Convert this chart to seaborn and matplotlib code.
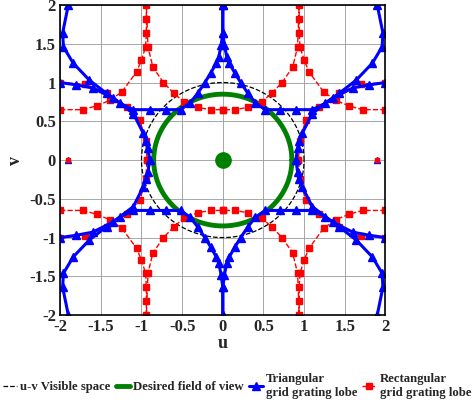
import numpy as np
import matplotlib
matplotlib.use("Agg")
import matplotlib.pyplot as plt
import seaborn as sns

sns.set_style("whitegrid")
plt.rcParams['font.family'] = ['Liberation Serif', 'DejaVu Serif']
plt.rcParams['font.weight'] = 'bold'

# upper-left part of each curve (u, v)
blue_top_u = [-1.90, -1.97, -1.96, -1.84, -1.64, -1.43, -1.26, -1.10, -0.90, -0.70, -0.52,
              -0.40, -0.31, -0.22, -0.15, -0.08, -0.05, -0.02, 0.00, 0.00]
blue_top_v = [2.00, 1.64, 1.46, 1.25, 1.03, 0.86, 0.73, 0.65, 0.65, 0.65, 0.65,
              0.74, 0.86, 1.00, 1.12, 1.25, 1.33, 1.48, 1.64, 2.00]
blue_side_u = [-2.00, -1.80, -1.60, -1.35, -1.10, -0.98, -0.94, -0.92, -0.90]
blue_side_v = [1.00, 0.97, 0.93, 0.80, 0.60, 0.35, 0.25, 0.15, 0.00]

red_top_u = [-2.00, -1.72, -1.55, -1.39, -1.24, -1.06, -1.00, -0.95, -0.94, -0.94, -0.94,
             -0.92, -0.86, -0.73, -0.60, -0.48, -0.31, -0.15, 0.00]
red_top_v = [0.65, 0.65, 0.70, 0.77, 0.88, 1.14, 1.29, 1.46, 1.64, 1.82, 2.00,
             1.46, 1.20, 1.00, 0.86, 0.75, 0.68, 0.65, 0.65]
red_side_u = [-2.00, -1.70, -1.43, -1.18, -1.02, -0.95, -0.93]
red_side_v = [1.00, 0.98, 0.87, 0.69, 0.52, 0.25, 0.00]

lobe_u = [-1.90, 1.90]
lobe_v = [0.00, 0.00]

visible_r = 1.0
fov_r = 0.85

fig = plt.figure(figsize=(4.74, 4.19), dpi=100)
ax = fig.add_axes([0.127, 0.248, 0.686, 0.740])

t = np.linspace(0, 2 * np.pi, 300)
ax.plot(visible_r * np.cos(t), visible_r * np.sin(t), 'k--', lw=0.9, label='u-v Visible space')
ax.plot(fov_r * np.cos(t), fov_r * np.sin(t), color='green', lw=3.5, label='Desired field of view')
ax.plot(0, 0, 'o', color='green', ms=11)


def mirrored(u, v):
    u = np.array(u); v = np.array(v)
    out = []
    for su in (1, -1):
        for sv in (1, -1):
            out.append((su * u, sv * v))
    return out


first = True
for uu, vv in mirrored(red_top_u, red_top_v) + mirrored(red_side_u, red_side_v):
    ax.plot(uu, vv, '--s', color='red', lw=1, ms=4,
            label='Rectangular\ngrid grating lobe' if first else None)
    first = False
first = True
for uu, vv in mirrored(blue_top_u, blue_top_v) + mirrored(blue_side_u, blue_side_v):
    ax.plot(uu, vv, '-^', color='blue', lw=2.2, ms=6,
            label='Triangular\ngrid grating lobe' if first else None)
    first = False
ax.plot(lobe_u, lobe_v, '^', color='blue', ms=5)
ax.plot(lobe_u, lobe_v, 's', color='red', ms=3)

ax.set_xlim(-2, 2)
ax.set_ylim(-2, 2)
ticks = [-2, -1.5, -1, -0.5, 0, 0.5, 1, 1.5, 2]
ax.set_xticks(ticks)
ax.set_yticks(ticks)
ax.set_xticklabels([f'{x:g}' for x in ticks], fontsize=12, fontweight='bold')
ax.set_yticklabels([f'{x:g}' for x in ticks], fontsize=12, fontweight='bold')
ax.set_xlabel('u', fontsize=13, fontweight='bold', labelpad=0)
ax.set_ylabel('v', fontsize=13, fontweight='bold')
ax.grid(True, color='#999999', lw=0.6)
for s in ax.spines.values():
    s.set_color('black')
    s.set_linewidth(1.2)
ax.tick_params(direction='in', length=3, pad=3)

h, l = ax.get_legend_handles_labels()
order = [l.index('u-v Visible space'), l.index('Desired field of view'),
         l.index('Triangular\ngrid grating lobe'), l.index('Rectangular\ngrid grating lobe')]
fig.legend([h[i] for i in order], [l[i] for i in order], loc='lower center',
           bbox_to_anchor=(0.5, 0.03), ncol=4, frameon=False,
           handlelength=1.1, handletextpad=0.25, columnspacing=0.4,
           borderpad=0.1, prop={'weight': 'bold', 'size': 9.2})

fig.savefig('out.png', dpi=100)
